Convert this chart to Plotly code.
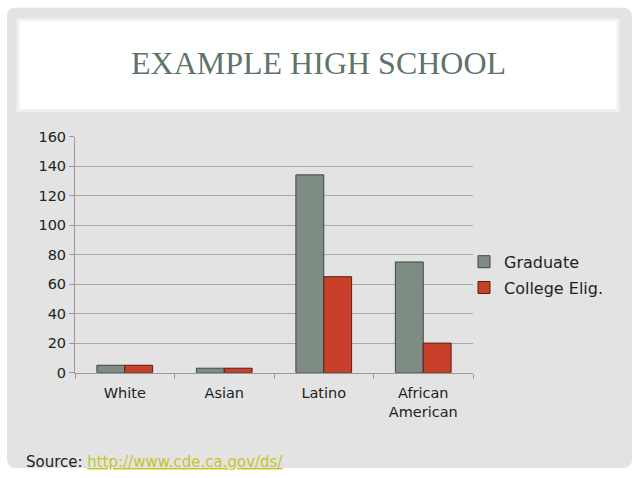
import plotly.graph_objects as go

categories = ["White", "Asian", "Latino", "African<br>American"]
graduate = [5, 3, 134, 75]
college_elig = [5, 3, 65, 20]
y_ticks = [0, 20, 40, 60, 80, 100, 120, 140, 160]

W, H = 638, 478
# the rendered page is squeezed slightly in height; map target pixel rows accordingly
SY, OY = 0.968, 7.3
def px(x): return x / W
def py(y): return 1 - ((y - OY) / SY) / H

font_sans = "DejaVu Sans"

fig = go.Figure()
fig.add_trace(go.Bar(
    name="Graduate", x=categories, y=graduate, legendgroup="g",
    marker=dict(color="#7e8c84", line=dict(color="#3e4843", width=1)),
))
fig.add_trace(go.Bar(
    name="College Elig.", x=categories, y=college_elig, legendgroup="c",
    marker=dict(color="#c8402c", line=dict(color="#5a1c12", width=1)),
))

# rounded panel path
x0, x1, y0, y1, r = 7, 632, 7, 468, 9
def P(x, y): return f"{px(x):.5f},{py(y):.5f}"
panel = (f"M {P(x0+r,y0)} L {P(x1-r,y0)} Q {P(x1,y0)} {P(x1,y0+r)} "
         f"L {P(x1,y1-r)} Q {P(x1,y1)} {P(x1-r,y1)} L {P(x0+r,y1)} "
         f"Q {P(x0,y1)} {P(x0,y1-r)} L {P(x0,y0+r)} Q {P(x0,y0)} {P(x0+r,y0)} Z")

shapes = [
    dict(type="path", xref="paper", yref="paper", path=panel,
         fillcolor="#e3e3e3", line=dict(width=0), layer="below"),
    dict(type="rect", xref="paper", yref="paper",
         x0=px(18), x1=px(618), y0=py(110), y1=py(19),
         fillcolor="#ffffff", line=dict(color="#f1f1f1", width=3), layer="below"),
]

annotations = [
    dict(text="EXAMPLE HIGH SCHOOL", xref="paper", yref="paper",
         x=px(318), y=py(62), xanchor="center", yanchor="middle", showarrow=False,
         font=dict(family="Liberation Serif", size=32, color="#5f7469")),
    dict(text="Source: <span style='color:#c5c52c;text-decoration:underline'>http://www.cde.ca.gov/ds/</span>",
         xref="paper", yref="paper", x=px(24), y=py(462), xanchor="left", yanchor="middle",
         showarrow=False, font=dict(family=font_sans, size=15, color="#222222")),
]

fig.update_layout(
    width=W, height=H,
    margin=dict(l=0, r=0, t=0, b=0),
    paper_bgcolor="#ffffff", plot_bgcolor="rgba(0,0,0,0)",
    barmode="group", bargap=0.44, bargroupgap=0,
    shapes=shapes, annotations=annotations,
    showlegend=True,
    legend=dict(x=px(464), y=py(274.5), xanchor="left", yanchor="middle",
                font=dict(family=font_sans, size=16, color="#222222"),
                bgcolor="rgba(0,0,0,0)", itemwidth=30, tracegroupgap=2),
    xaxis=dict(domain=[px(75), px(473)], tickson="boundaries", ticks="outside",
               ticklen=5, tickcolor="#9a9a9a", showline=True, linecolor="#9a9a9a",
               tickfont=dict(family=font_sans, size=14.5, color="#222222"),
               ticklabelstandoff=7, showgrid=False),
    yaxis=dict(domain=[py(372.5), py(136)], range=[0, 160], tickvals=y_ticks,
               ticks="outside", ticklen=5, tickcolor="#9a9a9a", showline=True,
               linecolor="#9a9a9a", gridcolor="#a8a8a8", gridwidth=1,
               tickfont=dict(family=font_sans, size=14.5, color="#222222"),
               zeroline=False),
)

post = ("var s=document.createElement('style');"
        "s.textContent='html,body{margin:0!important;padding:0!important;overflow:hidden;}';"
        "document.head.appendChild(s);window.scrollTo(0,0);")

fig.write_html("out.html", config={"displayModeBar": False}, post_script=post)
